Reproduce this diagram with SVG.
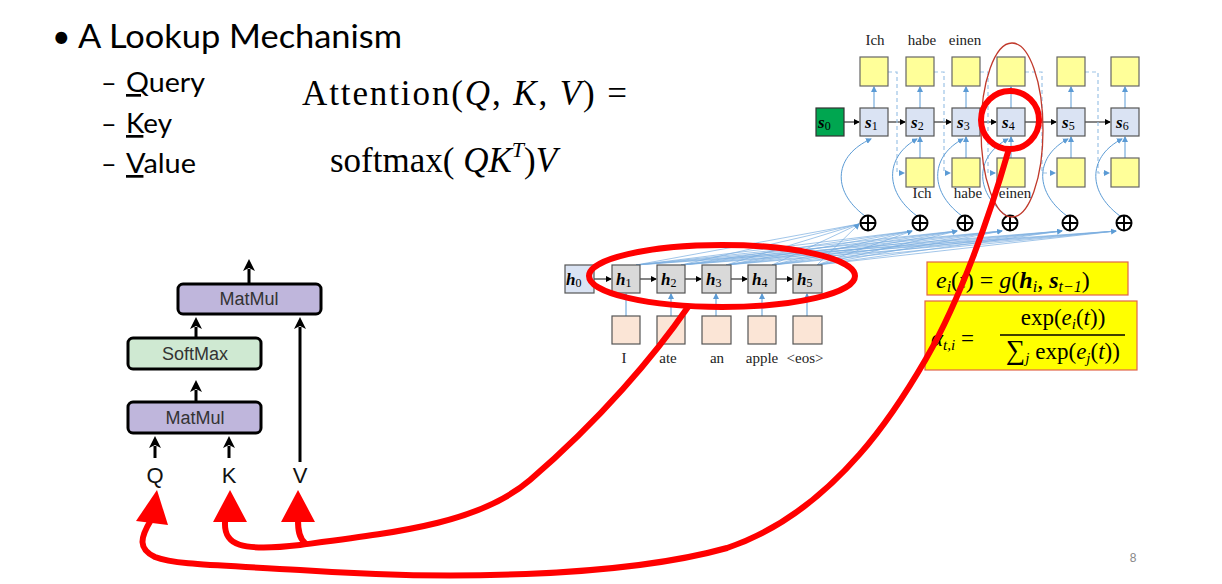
<svg xmlns="http://www.w3.org/2000/svg" width="1222" height="584" viewBox="0 0 1222 584">
<defs>
<style>
.sans{font-family:Lato,"Liberation Sans",sans-serif;fill:#000}
.serif{font-family:"Liberation Serif","Times New Roman",serif;fill:#000}
.yb{fill:#ffff99;stroke:#666;stroke-width:1.2}
.sb{fill:#dae3f3;stroke:#555;stroke-width:1.2}
.hb{fill:#d9d9d9;stroke:#555;stroke-width:1.2}
.ib{fill:#fbe5d6;stroke:#555;stroke-width:1.2}
.blue{stroke:#5b9bd5;stroke-width:1;fill:none}
.fan{stroke:#7aaee0;stroke-width:0.7;fill:none}
.dash{stroke:#9dc3e6;stroke-width:1.2;fill:none;stroke-dasharray:4 3}
.chain{stroke:#333;stroke-width:1.2;fill:none}
.red{stroke:#ff0000;stroke-width:6;fill:none;stroke-linecap:round;stroke-linejoin:round}
.lk{stroke:#000;stroke-width:3;fill:none}
.lbox{stroke:#000;stroke-width:3}
.lt{font-family:"Liberation Sans",Arial,sans-serif;font-size:18px;fill:#333;text-anchor:middle}
.qkv{font-family:"Liberation Sans",Arial,sans-serif;font-size:22px;fill:#111;text-anchor:middle}
.sym{fill:#fff;stroke:#000;stroke-width:2}
.lab{font-family:"Liberation Serif","Times New Roman",serif;font-size:15px;fill:#222;text-anchor:middle}
.var{font-family:"Liberation Serif",serif;font-weight:bold;font-style:italic;font-size:17px;fill:#000}
.eq{font-family:"Liberation Serif","Times New Roman",serif;font-size:23px;fill:#000}
</style>
<marker id="mchain" markerWidth="6" markerHeight="6" refX="5" refY="3" orient="auto" markerUnits="userSpaceOnUse"><path d="M0,0 L6,3 L0,6 Z" fill="#000"/></marker>
<marker id="mblue" markerWidth="6" markerHeight="6" refX="5" refY="3" orient="auto" markerUnits="userSpaceOnUse"><path d="M0,0 L6,3 L0,6 Z" fill="#5b9bd5"/></marker>
<marker id="mk" markerWidth="12" markerHeight="12" refX="2" refY="6" orient="auto" markerUnits="userSpaceOnUse"><path d="M0,0 L12,6 L0,12 L3,6 Z" fill="#000"/></marker>
</defs>

<rect width="1222" height="584" fill="#fff"/>

<!-- Bullet text -->
<g id="bullets">
<text class="sans" x="52" y="48" font-size="32">•</text>
<text class="sans" x="78" y="48" font-size="32" textLength="324" lengthAdjust="spacingAndGlyphs">A Lookup Mechanism</text>
<text class="sans" x="101" y="92" font-size="27">–</text>
<text class="sans" x="126" y="92" font-size="27" textLength="79" lengthAdjust="spacingAndGlyphs"><tspan text-decoration="underline">Q</tspan>uery</text>
<text class="sans" x="101" y="133" font-size="27">–</text>
<text class="sans" x="126" y="133" font-size="27" textLength="46" lengthAdjust="spacingAndGlyphs"><tspan text-decoration="underline">K</tspan>ey</text>
<text class="sans" x="101" y="173" font-size="27">–</text>
<text class="sans" x="126" y="173" font-size="27" textLength="70" lengthAdjust="spacingAndGlyphs"><tspan text-decoration="underline">V</tspan>alue</text>
</g>

<!-- Attention formula -->
<g id="formula">
<text class="serif" x="302" y="105" font-size="35" textLength="325" lengthAdjust="spacing">Attention(<tspan font-style="italic">Q</tspan>, <tspan font-style="italic">K</tspan>, <tspan font-style="italic">V</tspan>) =</text>
<text class="serif" x="330" y="172" font-size="35">softmax( <tspan font-style="italic">QK</tspan><tspan font-style="italic" font-size="22" dy="-15">T</tspan><tspan dy="15">)</tspan><tspan font-style="italic">V</tspan></text>
</g>

<!-- Left attention block diagram -->
<g id="connectors-left">
<line class="lk" x1="249" y1="283" x2="249" y2="269" marker-end="url(#mk)"/>
<line class="lk" x1="196" y1="337" x2="196" y2="327" marker-end="url(#mk)"/>
<line class="lk" x1="196" y1="401" x2="196" y2="390" marker-end="url(#mk)"/>
<line class="lk" x1="300" y1="462" x2="300" y2="327" marker-end="url(#mk)"/>
<line class="lk" x1="155" y1="458" x2="155" y2="446" marker-end="url(#mk)"/>
<line class="lk" x1="229" y1="458" x2="229" y2="446" marker-end="url(#mk)"/>
</g>
<g id="matmul-top"><rect class="lbox" x="178" y="284" width="143" height="30" rx="5" fill="#bfb6dc"/><text class="lt" x="249" y="305">MatMul</text></g>
<g id="softmax"><rect class="lbox" x="128" y="338" width="133" height="31" rx="5" fill="#cfe9d2"/><text class="lt" x="195" y="360">SoftMax</text></g>
<g id="matmul-bottom"><rect class="lbox" x="128" y="402" width="133" height="31" rx="5" fill="#bfb6dc"/><text class="lt" x="195" y="424">MatMul</text></g>
<g id="qkv">
<text class="qkv" x="155" y="483">Q</text>
<text class="qkv" x="229" y="483">K</text>
<text class="qkv" x="300" y="483">V</text>
</g>

<!-- Seq2seq attention figure: connectors -->
<g id="connectors">
<line class="chain" x1="594" y1="279" x2="611" y2="279" marker-end="url(#mchain)"/>
<line class="chain" x1="640" y1="279" x2="656" y2="279" marker-end="url(#mchain)"/>
<line class="chain" x1="685" y1="279" x2="701" y2="279" marker-end="url(#mchain)"/>
<line class="chain" x1="731" y1="279" x2="747" y2="279" marker-end="url(#mchain)"/>
<line class="chain" x1="776" y1="279" x2="792" y2="279" marker-end="url(#mchain)"/>
<line class="blue" x1="626" y1="316" x2="626" y2="294" marker-end="url(#mblue)"/>
<line class="blue" x1="671" y1="316" x2="671" y2="294" marker-end="url(#mblue)"/>
<line class="blue" x1="716" y1="316" x2="716" y2="294" marker-end="url(#mblue)"/>
<line class="blue" x1="762" y1="316" x2="762" y2="294" marker-end="url(#mblue)"/>
<line class="blue" x1="807" y1="316" x2="807" y2="294" marker-end="url(#mblue)"/>
<line class="chain" x1="844" y1="122" x2="859" y2="122" marker-end="url(#mchain)"/>
<line class="chain" x1="888" y1="122" x2="905" y2="122" marker-end="url(#mchain)"/>
<line class="chain" x1="934" y1="122" x2="951" y2="122" marker-end="url(#mchain)"/>
<line class="chain" x1="980" y1="122" x2="996" y2="122" marker-end="url(#mchain)"/>
<line class="chain" x1="1025" y1="122" x2="1056" y2="122" marker-end="url(#mchain)"/>
<line class="chain" x1="1085" y1="122" x2="1110" y2="122" marker-end="url(#mchain)"/>
<line class="blue" x1="874" y1="108" x2="874" y2="87" marker-end="url(#mblue)"/>
<line class="blue" x1="920" y1="108" x2="920" y2="87" marker-end="url(#mblue)"/>
<line class="blue" x1="966" y1="108" x2="966" y2="87" marker-end="url(#mblue)"/>
<line class="blue" x1="1011" y1="108" x2="1011" y2="87" marker-end="url(#mblue)"/>
<line class="blue" x1="1071" y1="108" x2="1071" y2="87" marker-end="url(#mblue)"/>
<line class="blue" x1="1125" y1="108" x2="1125" y2="87" marker-end="url(#mblue)"/>
<line class="blue" x1="920" y1="158" x2="920" y2="137" marker-end="url(#mblue)"/>
<line class="blue" x1="966" y1="158" x2="966" y2="137" marker-end="url(#mblue)"/>
<line class="blue" x1="1011" y1="158" x2="1011" y2="137" marker-end="url(#mblue)"/>
<line class="blue" x1="1071" y1="158" x2="1071" y2="137" marker-end="url(#mblue)"/>
<line class="blue" x1="1125" y1="158" x2="1125" y2="137" marker-end="url(#mblue)"/>
<path class="dash" d="M888,72 H897 V173 H904" marker-end="url(#mblue)"/>
<path class="dash" d="M934,72 H944 V173 H950" marker-end="url(#mblue)"/>
<path class="dash" d="M980,72 H988 V173 H995" marker-end="url(#mblue)"/>
<path class="dash" d="M1025,72 H1042 V173 H1055" marker-end="url(#mblue)"/>
<path class="dash" d="M1085,72 H1098 V173 H1109" marker-end="url(#mblue)"/>
<path class="blue" d="M865,216 C830,190 835,155 871,139" marker-end="url(#mblue)"/>
<path class="blue" d="M917,216 C882,190 887,155 917,139" marker-end="url(#mblue)"/>
<path class="blue" d="M962,216 C927,190 932,155 963,139" marker-end="url(#mblue)"/>
<path class="blue" d="M1007,216 C972,190 977,155 1008,139" marker-end="url(#mblue)"/>
<path class="blue" d="M1067,216 C1032,190 1037,155 1068,139" marker-end="url(#mblue)"/>
<path class="blue" d="M1120,216 C1085,190 1090,155 1122,139" marker-end="url(#mblue)"/>
<g class="fan">
<line x1="636" y1="265" x2="859" y2="224"/><line x1="681" y1="265" x2="859" y2="224"/><line x1="726" y1="265" x2="859" y2="224"/><line x1="772" y1="265" x2="859" y2="224"/><line x1="817" y1="265" x2="859" y2="224" marker-end="url(#mblue)"/>
<line x1="636" y1="265" x2="912" y2="231"/><line x1="681" y1="265" x2="912" y2="231"/><line x1="726" y1="265" x2="912" y2="231"/><line x1="772" y1="265" x2="912" y2="231"/><line x1="817" y1="265" x2="912" y2="231" marker-end="url(#mblue)"/>
<line x1="636" y1="265" x2="957" y2="231"/><line x1="681" y1="265" x2="957" y2="231"/><line x1="726" y1="265" x2="957" y2="231"/><line x1="772" y1="265" x2="957" y2="231"/><line x1="817" y1="265" x2="957" y2="231" marker-end="url(#mblue)"/>
<line x1="636" y1="265" x2="1002" y2="231"/><line x1="681" y1="265" x2="1002" y2="231"/><line x1="726" y1="265" x2="1002" y2="231"/><line x1="772" y1="265" x2="1002" y2="231"/><line x1="817" y1="265" x2="1002" y2="231" marker-end="url(#mblue)"/>
<line x1="636" y1="265" x2="1062" y2="231"/><line x1="681" y1="265" x2="1062" y2="231"/><line x1="726" y1="265" x2="1062" y2="231"/><line x1="772" y1="265" x2="1062" y2="231"/><line x1="817" y1="265" x2="1062" y2="231" marker-end="url(#mblue)"/>
<line x1="636" y1="265" x2="1116" y2="231"/><line x1="681" y1="265" x2="1116" y2="231"/><line x1="726" y1="265" x2="1116" y2="231"/><line x1="772" y1="265" x2="1116" y2="231"/><line x1="817" y1="265" x2="1116" y2="231" marker-end="url(#mblue)"/>
</g>
</g>

<!-- Decoder nodes -->
<g id="top-outputs">
<rect class="yb" x="860" y="57" width="28" height="29"/>
<rect class="yb" x="906" y="57" width="28" height="29"/>
<rect class="yb" x="952" y="57" width="28" height="29"/>
<rect class="yb" x="997" y="57" width="28" height="29"/>
<rect class="yb" x="1057" y="57" width="28" height="29"/>
<rect class="yb" x="1111" y="57" width="28" height="29"/>
<text class="lab" x="875" y="45">Ich</text>
<text class="lab" x="922" y="45">habe</text>
<text class="lab" x="965" y="45">einen</text>
</g>
<g id="s0"><rect x="816" y="108" width="28" height="28" fill="#00a650" stroke="#333" stroke-width="1.2"/><text class="var" x="818" y="128">s<tspan font-style="normal" font-weight="normal" font-size="12" dy="2">0</tspan></text></g>
<g id="s1"><rect class="sb" x="860" y="108" width="28" height="28"/><text class="var" x="865" y="128">s<tspan font-style="normal" font-weight="normal" font-size="12" dy="2">1</tspan></text></g>
<g id="s2"><rect class="sb" x="906" y="108" width="28" height="28"/><text class="var" x="911" y="128">s<tspan font-style="normal" font-weight="normal" font-size="12" dy="2">2</tspan></text></g>
<g id="s3"><rect class="sb" x="952" y="108" width="28" height="28"/><text class="var" x="957" y="128">s<tspan font-style="normal" font-weight="normal" font-size="12" dy="2">3</tspan></text></g>
<g id="s4"><rect class="sb" x="997" y="108" width="28" height="28"/><text class="var" x="1002" y="128">s<tspan font-style="normal" font-weight="normal" font-size="12" dy="2">4</tspan></text></g>
<g id="s5"><rect class="sb" x="1057" y="108" width="28" height="28"/><text class="var" x="1062" y="128">s<tspan font-style="normal" font-weight="normal" font-size="12" dy="2">5</tspan></text></g>
<g id="s6"><rect class="sb" x="1111" y="108" width="28" height="28"/><text class="var" x="1116" y="128">s<tspan font-style="normal" font-weight="normal" font-size="12" dy="2">6</tspan></text></g>
<g id="bottom-inputs">
<rect class="yb" x="906" y="158" width="28" height="29"/>
<rect class="yb" x="952" y="158" width="28" height="29"/>
<rect class="yb" x="997" y="158" width="28" height="29"/>
<rect class="yb" x="1057" y="158" width="28" height="29"/>
<rect class="yb" x="1111" y="158" width="28" height="29"/>
<text class="lab" x="922" y="198">Ich</text>
<text class="lab" x="968" y="198">habe</text>
<text class="lab" x="1015" y="198">einen</text>
</g>
<g id="plus-nodes">
<g><circle class="sym" cx="868" cy="223" r="7.5"/><path d="M860.5,223 H875.5 M868,215.5 V230.5" stroke="#000" stroke-width="2"/></g>
<g><circle class="sym" cx="920" cy="223" r="7.5"/><path d="M912.5,223 H927.5 M920,215.5 V230.5" stroke="#000" stroke-width="2"/></g>
<g><circle class="sym" cx="965" cy="223" r="7.5"/><path d="M957.5,223 H972.5 M965,215.5 V230.5" stroke="#000" stroke-width="2"/></g>
<g><circle class="sym" cx="1010" cy="223" r="7.5"/><path d="M1002.5,223 H1017.5 M1010,215.5 V230.5" stroke="#000" stroke-width="2"/></g>
<g><circle class="sym" cx="1070" cy="223" r="7.5"/><path d="M1062.5,223 H1077.5 M1070,215.5 V230.5" stroke="#000" stroke-width="2"/></g>
<g><circle class="sym" cx="1124" cy="223" r="7.5"/><path d="M1116.5,223 H1131.5 M1124,215.5 V230.5" stroke="#000" stroke-width="2"/></g>
</g>

<!-- Encoder nodes -->
<g id="h0"><rect x="565" y="265" width="29" height="28" fill="#dae3f3" stroke="#555" stroke-width="1.2"/><text class="var" x="566" y="285">h<tspan font-style="normal" font-weight="normal" font-size="12" dy="2">0</tspan></text></g>
<g id="h1"><rect class="hb" x="612" y="265" width="28" height="28"/><text class="var" x="616" y="285">h<tspan font-style="normal" font-weight="normal" font-size="12" dy="2">1</tspan></text></g>
<g id="h2"><rect class="hb" x="657" y="265" width="28" height="28"/><text class="var" x="661" y="285">h<tspan font-style="normal" font-weight="normal" font-size="12" dy="2">2</tspan></text></g>
<g id="h3"><rect class="hb" x="702" y="265" width="29" height="28"/><text class="var" x="706" y="285">h<tspan font-style="normal" font-weight="normal" font-size="12" dy="2">3</tspan></text></g>
<g id="h4"><rect class="hb" x="748" y="265" width="28" height="28"/><text class="var" x="752" y="285">h<tspan font-style="normal" font-weight="normal" font-size="12" dy="2">4</tspan></text></g>
<g id="h5"><rect class="hb" x="793" y="265" width="29" height="28"/><text class="var" x="797" y="285">h<tspan font-style="normal" font-weight="normal" font-size="12" dy="2">5</tspan></text></g>
<g id="inputs">
<rect class="ib" x="612" y="316" width="28" height="28"/>
<rect class="ib" x="657" y="316" width="28" height="28"/>
<rect class="ib" x="702" y="316" width="29" height="28"/>
<rect class="ib" x="748" y="316" width="28" height="28"/>
<rect class="ib" x="793" y="316" width="29" height="28"/>
<text class="lab" x="624" y="363">I</text>
<text class="lab" x="668" y="363">ate</text>
<text class="lab" x="717" y="363">an</text>
<text class="lab" x="762" y="363">apple</text>
<text class="lab" x="805" y="363">&lt;eos&gt;</text>
</g>

<!-- Equations -->
<g id="eq1">
<rect x="927" y="262" width="201" height="33" fill="#ffff00" stroke="#e2654a" stroke-width="1.2"/>
<text class="eq" x="936" y="288" style="font-size:24px"><tspan font-style="italic">e</tspan><tspan font-style="italic" font-size="16" dy="4">i</tspan><tspan dy="-4">(</tspan><tspan font-style="italic">t</tspan>) = <tspan font-style="italic">g</tspan>(<tspan font-weight="bold" font-style="italic">h</tspan><tspan font-style="italic" font-size="16" dy="4">i</tspan><tspan dy="-4">, </tspan><tspan font-weight="bold" font-style="italic">s</tspan><tspan font-style="italic" font-size="16" dy="4">t−1</tspan><tspan dy="-4">)</tspan></text>
</g>
<g id="eq2">
<rect x="925" y="301" width="212" height="69" fill="#ffff00" stroke="#e2654a" stroke-width="1.2"/>
<text class="eq" x="931" y="346"><tspan font-style="italic">α</tspan><tspan font-style="italic" font-size="15" dy="4">t,i</tspan><tspan dy="-4"> =</tspan></text>
<line x1="1000" y1="335" x2="1125" y2="335" stroke="#000" stroke-width="1.3"/>
<text class="eq" x="1063" y="325" text-anchor="middle">exp(<tspan font-style="italic">e</tspan><tspan font-style="italic" font-size="15" dy="4">i</tspan><tspan dy="-4">(</tspan><tspan font-style="italic">t</tspan>))</text>
<text class="eq" x="1063" y="359" text-anchor="middle"><tspan font-size="27">∑</tspan><tspan font-style="italic" font-size="15" dy="4">j</tspan><tspan dy="-4"> exp(</tspan><tspan font-style="italic">e</tspan><tspan font-style="italic" font-size="15" dy="4">j</tspan><tspan dy="-4">(</tspan><tspan font-style="italic">t</tspan>))</text>
</g>

<!-- Red annotations -->
<g id="red-annotations">
<ellipse cx="1012" cy="130" rx="31" ry="87" fill="none" stroke="#c0392b" stroke-width="1.3"/>
<circle class="red" cx="1010" cy="120" r="29"/>
<ellipse class="red" cx="722" cy="276" rx="133" ry="31"/>
<path class="red" d="M688,307 C655,355 600,420 530,480 C480,523 400,532 300,545 C240,552 224,545 225,522"/>
<path class="red" d="M305,543 C299,538 298,530 298,520"/>
<path class="red" d="M1008,152 C990,215 960,300 927,357 C905,395 840,510 727,548 C620,578 440,580 300,570 C220,565 175,565 155,557 C138,549 140,538 151,520"/>
<polygon points="157,490 136,521 168,525" fill="#ff0000"/>
<polygon points="230,490 213,522 247,522" fill="#ff0000"/>
<polygon points="298,490 281,522 315,522" fill="#ff0000"/>
</g>

<text x="1133" y="562" font-family="Liberation Sans,sans-serif" font-size="12" fill="#888" text-anchor="middle">8</text>
</svg>
